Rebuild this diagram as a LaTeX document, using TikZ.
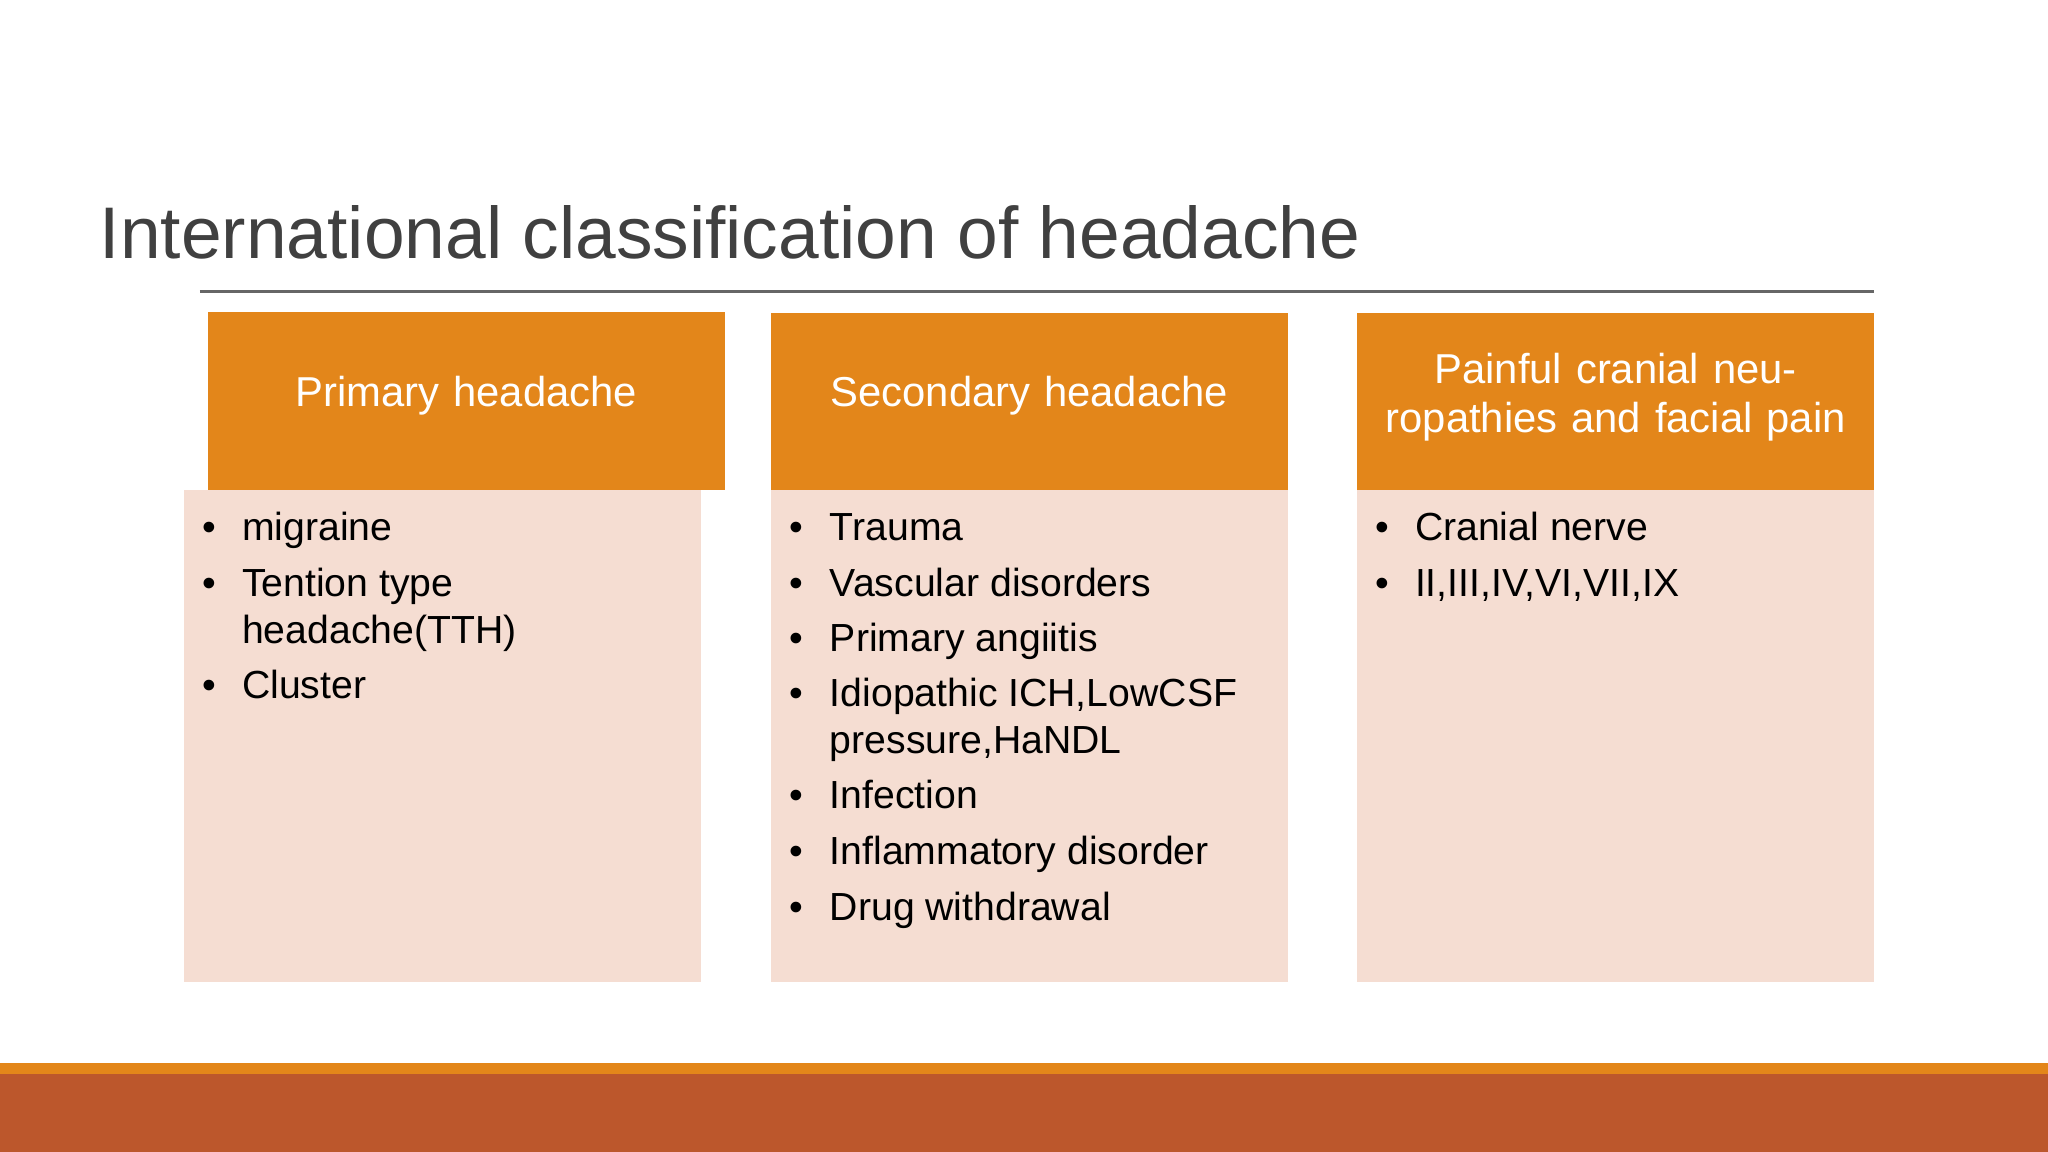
\documentclass[tikz,border=0pt]{standalone}
\usepackage{fontspec}
\setmainfont{Liberation Sans}
\definecolor{org}{HTML}{E3861A}
\definecolor{pnk}{HTML}{F5DDD2}
\definecolor{rust}{HTML}{BC572C}
\definecolor{ttl}{HTML}{404040}
\begin{document}
\begin{tikzpicture}[x=0.5pt,y=-0.5pt,
  hdr/.style={fill=org,draw=none},
  bodybox/.style={fill=pnk,draw=none},
  htext/.style={text=white,font=\fontsize{16}{19}\selectfont,align=center,text width=180pt},
  item/.style={anchor=base west,inner sep=0pt,font=\fontsize{15}{18}\selectfont,text=black},
  bul/.style={anchor=base west,inner sep=0pt,font=\fontsize{15}{18}\selectfont}]
\useasboundingbox (0,0) rectangle (1568,882);
\fill[white] (0,0) rectangle (1568,882);
\node[anchor=base west,inner sep=0pt,text=ttl,font=\fontsize{28}{32}\selectfont] (title) at (76,198) {International classification of headache};
\draw[gray!80!black,line width=1pt] (153,223) -- (1435,223);
% boxes
\fill[bodybox] (141,375) rectangle (537,752);
\fill[bodybox] (590,375) rectangle (986,752);
\fill[bodybox] (1039,375) rectangle (1435,752);
\fill[hdr] (159,239) rectangle (555,375);
\fill[hdr] (590,240) rectangle (986,375);
\fill[hdr] (1039,240) rectangle (1435,375);
\node[htext] (h1) at (357,303) {Primary headache};
\node[htext] (h2) at (788,303) {Secondary headache};
\node[htext] (h3) at (1237,304) {Painful cranial neuropathies and facial pain};
% column 1
\foreach \y/\t in {414/migraine,457/Tention type,535/Cluster}{\node[bul] at (155,\y) {•};}
\node[item] (a1) at (185,414) {migraine};
\node[item] (a2) at (185,457) {Tention type};
\node[item] (a3) at (185,493) {headache(TTH)};
\node[item] (a4) at (185,535) {Cluster};
% column 2
\foreach \y in {414,457,499,541,619,662,705}{\node[bul] at (604,\y) {•};}
\node[item] (b1) at (635,414) {Trauma};
\node[item] (b2) at (635,457) {Vascular disorders};
\node[item] (b3) at (635,499) {Primary angiitis};
\node[item] (b4) at (635,541) {Idiopathic ICH,LowCSF};
\node[item] (b5) at (635,577) {pressure,HaNDL};
\node[item] (b6) at (635,619) {Infection};
\node[item] (b7) at (635,662) {Inflammatory disorder};
\node[item] (b8) at (635,705) {Drug withdrawal};
% column 3
\foreach \y in {414,457}{\node[bul] at (1053,\y) {•};}
\node[item] (c1) at (1083,414) {Cranial nerve};
\node[item] (c2) at (1083,457) {II,III,IV,VI,VII,IX};
% bottom bar
\fill[org] (0,814) rectangle (1568,822);
\fill[rust] (0,822) rectangle (1568,882);
\end{tikzpicture}
\end{document}
